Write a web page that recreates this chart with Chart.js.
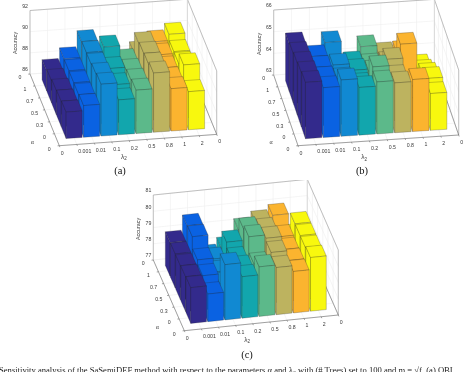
<!DOCTYPE html>
<html>
<head>
<meta charset="utf-8">
<title>Sensitivity analysis</title>
<script src="https://cdn.jsdelivr.net/npm/chart.js@4"></script>
<style>
  html, body { margin: 0; padding: 0; background: #fff; overflow: hidden; }
  #page { position: relative; width: 474px; height: 372px; overflow: hidden; }
  canvas { position: absolute; }
  .tag { position: absolute; font: 10.5px "Liberation Serif", serif; color: #111; transform: translateX(-50%); }
  #caption { position: absolute; left: -1px; top: 365px; width: 476px; white-space: nowrap; overflow: hidden;
             font: 8.6px "Liberation Serif", serif; color: #222; }
</style>
</head>
<body>
<div id="page">
  <canvas id="panelA" width="237" height="180" style="left:0;top:0"></canvas>
  <canvas id="panelB" width="237" height="180" style="left:237px;top:0"></canvas>
  <canvas id="panelC" width="237" height="192" style="left:120px;top:180px"></canvas>
  <div class="tag" style="left:120px;top:165px">(a)</div>
  <div class="tag" style="left:362px;top:165px">(b)</div>
  <div class="tag" style="left:247px;top:349px">(c)</div>
  <div id="caption">Sensitivity analysis of the SaSemiDEF method with respect to the parameters α and λ₂ with (# Trees) set to 100 and m = √f. (a) OBI</div>
</div>
<script>
/* ================= DATA ================= */
const lambdaLabels = ["0", "0.001", "0.01", "0.1", "0.2", "0.5", "0.8", "1", "2", "0"];
const alphaLabels = ["0", "0", "0.3", "0.5", "0.7", "1", "0"];
const barColors = ["#332a8c", "#0a62e2", "#1189d2", "#12a6ad", "#5cb98a", "#bdb35f", "#fbb42f", "#f8f80e"];

const accuracyTicksA = [86, 88, 90, 92];
const accuracyTicksB = [63, 64, 65, 66];
const accuracyTicksC = [77, 78, 79, 80, 81];

// one list per lambda, rows go from the front (alpha 0) to the back (alpha 1)
const accuracyA = [
  [88.5, 88.4, 88.3, 88.1, 87.9],
  [89.0, 88.9, 88.9, 88.9, 88.9],
  [90.9, 90.7, 90.5, 90.5, 90.4],
  [89.3, 89.6, 90.0, 90.9, 88.0],
  [90.1, 89.9, 89.7, 89.5, 88.0],
  [91.6, 91.3, 91.2, 91.0, 89.0],
  [90.0, 89.8, 89.7, 89.8, 89.9],
  [89.6, 91.0, 90.0, 90.0, 90.5]
];
const accuracyB = [
  [65.6, 65.5, 65.4, 65.3, 65.2],
  [65.3, 65.2, 65.15, 65.1, 64.0],
  [65.6, 65.1, 65.2, 64.4, 65.15],
  [65.2, 64.8, 64.9, 64.7, 64.0],
  [65.4, 65.55, 64.8, 64.55, 64.85],
  [65.3, 65.05, 65.3, 64.6, 64.47],
  [65.4, 64.0, 64.0, 65.4, 64.5],
  [64.7, 64.85, 64.5, 64.1, 63.8]
];
const accuracyC = [
  [79.2, 79.15, 79.1, 79.1, 79.07],
  [78.7, 79.1, 79.35, 80.05, 80.0],
  [80.4, 78.5, 78.5, 78.55, 78.0],
  [79.55, 79.4, 79.2, 79.5, 78.4],
  [80.05, 79.5, 80.45, 80.2, 79.45],
  [79.9, 80.1, 80.25, 80.05, 79.8],
  [79.55, 79.5, 79.45, 79.5, 80.1],
  [80.3, 80.2, 80.2, 80.2, 78.75]
];

/* ================= 3D BAR PLUGIN ================= */
// x = lambda, y = accuracy, z = alpha. The three scales give the pixels, the
// panel's slant turns them into the oblique view MATLAB's bar3 had.
const BAR_HALF_X = 0.46;
const BAR_HALF_Z = 0.46;

const bars3d = {
  id: "bars3d",
  afterDatasetsDraw(chart, args, opts) {
    const { ctx, scales: { x, y, z } } = chart;
    const xLen = x.right - x.left;
    const zLen = z.right - z.left;

    const project = (l, v, a) => {
      const px = x.getPixelForValue(l);
      const u = (px - x.left) / xLen;
      const w = (z.getPixelForValue(a) - z.left) / zLen;
      return [px + w * opts.depth[0], y.getPixelForValue(v) + u * opts.rise + w * opts.depth[1]];
    };
    const poly = (pts) => {
      ctx.beginPath();
      pts.forEach((p, i) => (i ? ctx.lineTo(p[0], p[1]) : ctx.moveTo(p[0], p[1])));
      ctx.closePath();
    };
    const seg = (a, b) => {
      ctx.beginPath();
      ctx.moveTo(a[0], a[1]);
      ctx.lineTo(b[0], b[1]);
      ctx.stroke();
    };

    ctx.save();
    const yMin = y.min, yMax = y.max, xMax = x.max, zMax = z.max;

    // walls and floor grid
    ctx.lineWidth = 0.6;
    ctx.strokeStyle = "#efefef";
    for (let i = 0; i <= xMax; i++) {
      seg(project(i, yMin, zMax), project(i, yMax, zMax));
      seg(project(i, yMin, 0), project(i, yMin, zMax));
    }
    for (let i = 0; i <= zMax; i++) {
      seg(project(0, yMin, i), project(xMax, yMin, i));
      seg(project(xMax, yMin, i), project(xMax, yMax, i));
    }
    opts.ticks.forEach((t) => {
      seg(project(0, t, zMax), project(xMax, t, zMax));
      seg(project(xMax, t, zMax), project(xMax, t, 0));
    });

    ctx.strokeStyle = "#a8a8a8";
    ctx.lineWidth = 0.7;
    seg(project(0, yMin, zMax), project(0, yMax, zMax));
    seg(project(0, yMax, zMax), project(xMax, yMax, zMax));
    seg(project(xMax, yMax, zMax), project(xMax, yMax, 0));
    seg(project(xMax, yMax, 0), project(xMax, yMin, 0));
    ctx.strokeStyle = "#d0d0d0";
    seg(project(xMax, yMin, zMax), project(xMax, yMax, zMax));

    // axis lines and tick marks
    ctx.strokeStyle = "#666";
    ctx.lineWidth = 0.6;
    seg(project(0, yMin, zMax), project(0, yMin, 0));
    seg(project(0, yMin, 0), project(xMax, yMin, 0));
    seg(project(xMax, yMin, 0), project(xMax, yMin, zMax));
    for (let i = 0; i <= xMax; i++) seg(project(i, yMin, 0), project(i, yMin, -0.12));
    for (let i = 0; i <= zMax; i++) seg(project(0, yMin, i), project(-0.1, yMin, i));

    // bars, far row first and right to left so nearer boxes cover the others
    const boxes = [];
    chart.data.datasets.forEach((ds) => {
      ds.data.forEach((p) => boxes.push({ l: p.x, v: p.y, a: p.z, color: ds.backgroundColor }));
    });
    boxes.sort((p, q) => q.a - p.a || q.l - p.l);

    boxes.forEach((b) => {
      const x0 = b.l - BAR_HALF_X, x1 = b.l + BAR_HALF_X;
      const z0 = b.a - BAR_HALF_Z, z1 = b.a + BAR_HALF_Z;
      const faces = [
        [project(x0, yMin, z0), project(x0, yMin, z1), project(x0, b.v, z1), project(x0, b.v, z0)],
        [project(x0, b.v, z0), project(x0, b.v, z1), project(x1, b.v, z1), project(x1, b.v, z0)],
        [project(x0, yMin, z0), project(x1, yMin, z0), project(x1, b.v, z0), project(x0, b.v, z0)]
      ];
      ctx.fillStyle = b.color;
      ctx.strokeStyle = "rgba(35,35,35,0.45)";
      ctx.lineWidth = 0.55;
      faces.forEach((f) => {
        poly(f);
        ctx.fill();
        ctx.stroke();
      });
    });

    // text
    ctx.fillStyle = "#3a3a3a";
    ctx.font = '5.2px "Liberation Sans", sans-serif';
    ctx.textBaseline = "middle";

    ctx.textAlign = "left";
    lambdaLabels.forEach((t, i) => {
      const p = project(i, yMin, 0);
      ctx.fillText(t, p[0] + 1.5, p[1] + 7.5);
    });

    ctx.textAlign = "center";
    alphaLabels.forEach((t, i) => {
      const p = project(0, yMin, i);
      ctx.fillText(t, p[0] - 10, p[1] + 4);
    });

    ctx.textAlign = "right";
    opts.ticks.forEach((t) => {
      const p = project(0, t, zMax);
      ctx.fillText(String(t), p[0] - 2, p[1] - 4);
    });

    ctx.textAlign = "center";
    const corner = project(0, yMin, 0);
    const back = project(0, yMin, zMax);
    ctx.font = '6px "Liberation Serif", serif';
    ctx.fillText("α", corner[0] - 27, corner[1] - 3);

    const mid = project(xMax / 2, yMin, 0);
    ctx.font = '6.5px "Liberation Sans", sans-serif';
    ctx.fillText("λ", mid[0] - 15.5, mid[1] + 17);
    ctx.font = '4.5px "Liberation Sans", sans-serif';
    ctx.fillText("2", mid[0] - 12.5, mid[1] + 19);

    ctx.font = '5.4px "Liberation Sans", sans-serif';
    ctx.translate(back[0] - 14.5, back[1] - 31);
    ctx.rotate(-Math.PI / 2);
    ctx.fillText("Accuracy", 0, 0);
    ctx.restore();
  }
};

/* ================= PANELS ================= */
function drawPanel(canvasId, accuracy, ticks, view) {
  const canvas = document.getElementById(canvasId);
  return new Chart(canvas, {
    type: "scatter",
    data: {
      datasets: accuracy.map((rows, i) => ({
        data: rows.map((v, r) => ({ x: i + 1, y: v, z: r + 1 })),
        backgroundColor: barColors[i],
        pointRadius: 0
      }))
    },
    options: {
      responsive: false,
      animation: false,
      events: [],
      layout: {
        padding: {
          left: view.left,
          right: canvas.width - view.right,
          top: view.bottom - view.height,
          bottom: canvas.height - view.bottom
        }
      },
      scales: {
        x: { type: "linear", min: 0, max: lambdaLabels.length - 1, display: false },
        y: { type: "linear", min: ticks[0], max: ticks[ticks.length - 1], display: false },
        z: { type: "linear", axis: "x", min: 0, max: alphaLabels.length - 1, display: false }
      },
      plugins: {
        legend: { display: false },
        tooltip: { enabled: false },
        bars3d: { ticks: ticks, depth: view.depth, rise: view.rise }
      }
    },
    plugins: [bars3d]
  });
}

drawPanel("panelA", accuracyA, accuracyTicksA,
  { left: 59.3, right: 216.7, bottom: 145.7, height: 63.5, depth: [-29.3, -71.7], rise: -11.3 });
drawPanel("panelB", accuracyB, accuracyTicksB,
  { left: 61, right: 221.7, bottom: 145.7, height: 65, depth: [-24.3, -70.7], rise: -10.7 });
drawPanel("panelC", accuracyC, accuracyTicksC,
  { left: 64.3, right: 218.3, bottom: 150.7, height: 65, depth: [-31, -70.7], rise: -15.7 });
</script>
</body>
</html>
